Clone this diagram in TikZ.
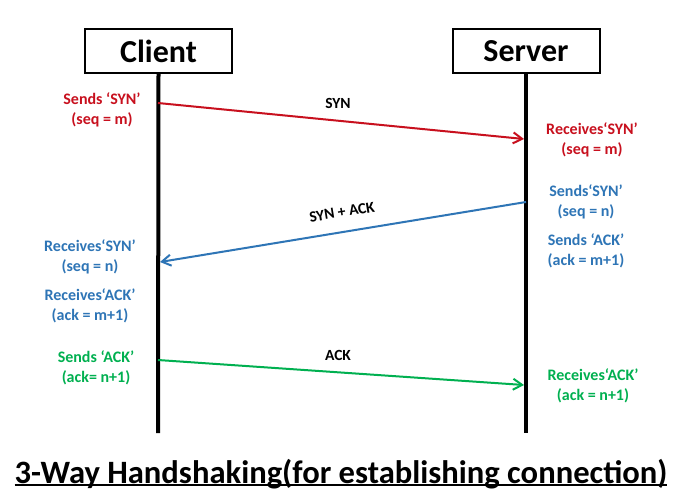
\documentclass[tikz,border=0pt]{standalone}
\usepackage{fontspec}
\setmainfont{Carlito}
\newcommand\thickul[1]{\setbox0\hbox{#1}\rlap{\rule[-2.6pt]{\wd0}{1.8pt}}\box0}
\usetikzlibrary{arrows.meta}
\definecolor{cred}{RGB}{200,16,30}
\definecolor{cblue}{RGB}{46,117,182}
\definecolor{cgreen}{RGB}{0,176,80}
\tikzset{
  hostbox/.style={draw=black, line width=2pt, minimum width=147pt, minimum height=44pt, inner sep=0pt, font=\fontsize{32}{36}\selectfont\bfseries},
  lifeline/.style={line width=4pt},
  msg/.style={line width=2pt, -{Straight Barb[length=9pt,width=11pt,line width=2pt]}},
  note/.style={align=center, inner sep=0pt, font=\fontsize{16}{20.5}\selectfont\bfseries},
  lbl/.style={inner sep=0pt, font=\fontsize{15.5}{17}\selectfont\bfseries}
}
\begin{document}
\begin{tikzpicture}[x=1pt,y=-1pt]
\useasboundingbox[fill=white] (0,0) rectangle (684,501);
\node[hostbox] (client) at (158.5,51) {Client};
\node[hostbox] (server) at (526,51) {Server};
\coordinate (cend) at (158,433);
\coordinate (send) at (526,433);
\draw[lifeline] (client.south) -- (cend);
\draw[lifeline] (server.south) -- (send);
\coordinate (c1) at (158,103);
\coordinate (s1) at (524,139);
\coordinate (s2) at (526,202);
\coordinate (c2) at (160,262);
\coordinate (c3) at (158,360);
\coordinate (s3) at (524,385);
\draw[msg, cred] (c1) -- (s1);
\draw[msg, cblue] (s2) -- (c2);
\draw[msg, cgreen] (c3) -- (s3);
\node[lbl] (lsyn) at (338,103) {SYN};
\node[lbl, rotate=9.3] (lsynack) at (342,212) {SYN + ACK};
\node[lbl] (lack) at (338,355) {ACK};
\node[note, text=cred] (n1) at (102,110) {Sends ‘SYN’\\(seq = m)};
\node[note, text=cred] (n2) at (592,140) {Receives‘SYN’\\(seq = m)};
\node[note, text=cblue] (n3) at (586,202) {Sends‘SYN’\\(seq = n)};
\node[note, text=cblue] (n4) at (586,251) {Sends ‘ACK’\\(ack = m+1)};
\node[note, text=cblue] (n5) at (90,257) {Receives‘SYN’\\(seq = n)};
\node[note, text=cblue] (n6) at (90,306) {Receives‘ACK’\\(ack = m+1)};
\node[note, text=cgreen] (n7) at (96,368) {Sends ‘ACK’\\(ack= n+1)};
\node[note, text=cgreen] (n8) at (593,386) {Receives‘ACK’\\(ack = n+1)};
\node[inner sep=0pt, anchor=base, font=\fontsize{32.6}{36}\selectfont\bfseries] (title) at (341,483) {\thickul{3-Way Handshaking(for establishing connection)}};
\end{tikzpicture}
\end{document}
